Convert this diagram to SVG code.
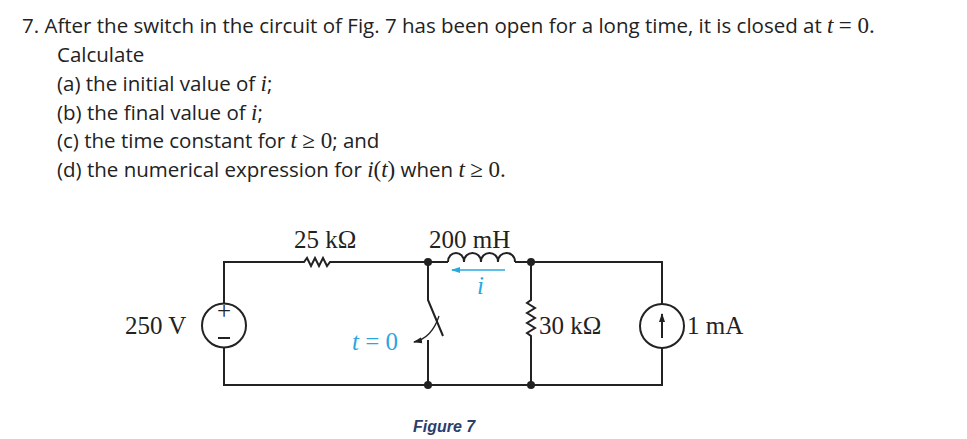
<svg xmlns="http://www.w3.org/2000/svg" width="967" height="439" viewBox="0 0 967 439">
<style>
.t{font-family:"Open Sans",sans-serif;font-size:20.5px;fill:#222}
.m{font-family:"Liberation Serif",serif;font-style:italic;font-size:23px}
.n{font-family:"Liberation Serif",serif;font-size:23px}
.s{font-family:"Liberation Serif",serif;font-size:25px;fill:#222}
.w{fill:none;stroke:#222;stroke-width:2}
.b{fill:#29a8e0}
</style>
<defs><marker id="ah" markerWidth="9" markerHeight="8" refX="8" refY="4" orient="auto" markerUnits="userSpaceOnUse"><path d="M0,1 L9,4 L0,7z" fill="#29a8e0"/></marker>
<marker id="ak" markerWidth="9" markerHeight="8" refX="8" refY="4" orient="auto" markerUnits="userSpaceOnUse"><path d="M0,1 L9,4 L0,7z" fill="#222"/></marker></defs>
<rect width="967" height="439" fill="#fff"/>
<text class="t" x="22" y="33">7.  After the switch in the circuit of Fig. 7 has been open for a long time, it is closed at <tspan class="m">t</tspan>  <tspan class="n">=  0.</tspan></text>
<text class="t" x="57" y="62">Calculate</text>
<text class="t" x="57" y="91">(a)  the initial value of <tspan class="m">i</tspan>;</text>
<text class="t" x="57" y="120">(b)  the final value of <tspan class="m">i</tspan>;</text>
<text class="t" x="57" y="148">(c)  the time constant for <tspan class="m">t</tspan>  <tspan class="n">≥ 0</tspan>; and</text>
<text class="t" x="57" y="177">(d)  the numerical expression for <tspan class="m">i</tspan><tspan class="n">(</tspan><tspan class="m">t</tspan><tspan class="n">)</tspan> when <tspan class="m">t</tspan>  <tspan class="n">≥ 0.</tspan></text>
<g id="connectors">
<path class="w" d="M224,304 V262 H304 l3,-4 l4,8 l4,-8 l4,8 l4,-8 l4,8 l3,-4 H448 M515,262 H662 V304 M662,348 V385 H224 V347"/>
<path class="w" d="M448,262 c0,-12 16,-12 16,0 c0,-12 17,-12 17,0 c0,-12 17,-12 17,0 c0,-12 17,-12 17,0"/>
<path class="w" d="M428,262 V300 L443,336 M428,340 V385"/>
<path d="M439,316 Q432,338 414,342" fill="none" stroke="#222" stroke-width="1.3" marker-end="url(#ak)"/>
<path class="w" d="M531,262 V300 l-4,3 l8,5 l-8,5 l8,5 l-8,5 l8,5 l-8,5 l4,3 V385"/>
<path d="M505,270 H452" stroke="#29a8e0" stroke-width="1.6" marker-end="url(#ah)"/>
</g>
<g id="nodes" fill="#222">
<circle cx="428" cy="262" r="4"/><circle cx="531" cy="262" r="4"/>
<circle cx="428" cy="385" r="4"/><circle cx="531" cy="385" r="4"/>
</g>
<g id="vsrc"><circle class="w" cx="224" cy="325.5" r="22"/>
<text class="s" x="224" y="319" text-anchor="middle" font-size="20">+</text>
<path class="w" d="M218,338 h12"/></g>
<g id="isrc"><circle class="w" cx="662" cy="326" r="22"/>
<path class="w" d="M662,338 V314" marker-end="url(#ak)"/></g>
<text class="s" x="294" y="248">25 kΩ</text>
<text class="s" x="429" y="248">200 mH</text>
<text class="s" x="125" y="334">250 V</text>
<text class="s" x="539" y="334">30 kΩ</text>
<text class="s" x="687" y="334">1 mA</text>
<text class="s b" x="477" y="294" font-style="italic" font-size="20">i</text>
<text class="s b" x="352" y="350" font-size="20"><tspan font-style="italic">t</tspan> = 0</text>
<text x="413" y="432" font-family="Liberation Sans,sans-serif" font-size="16" font-style="italic" font-weight="bold" fill="#2c3e6b">Figure 7</text>
</svg>
